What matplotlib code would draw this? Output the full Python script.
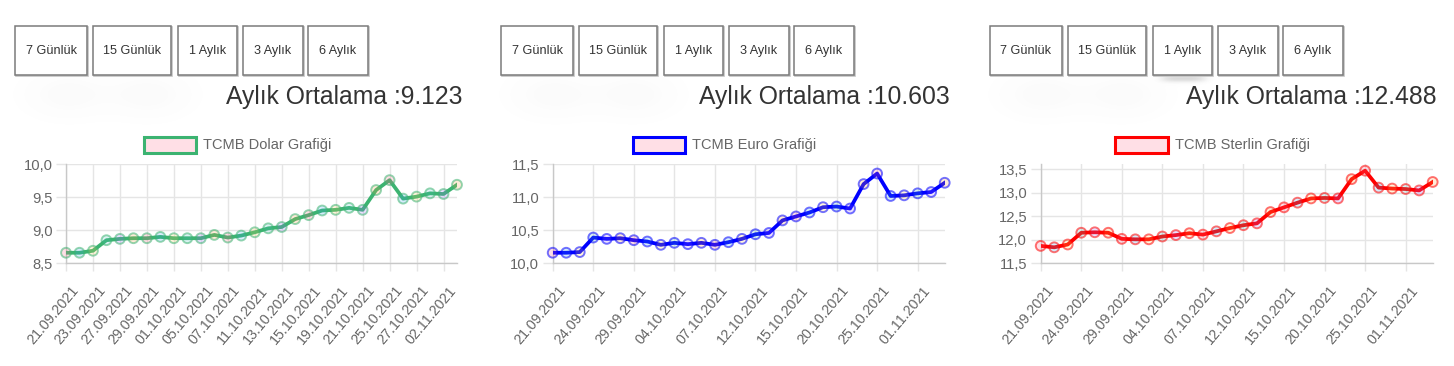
import matplotlib
matplotlib.use("Agg")
import matplotlib.pyplot as plt
import matplotlib.transforms as mtransforms
from matplotlib.patches import Rectangle
import numpy as np

plt.rcParams['font.family'] = ['Liberation Sans', 'DejaVu Sans']

# ---------------- data ----------------
dates = ["21.09.2021", "22.09.2021", "23.09.2021", "24.09.2021", "27.09.2021",
         "28.09.2021", "29.09.2021", "30.09.2021", "01.10.2021", "04.10.2021",
         "05.10.2021", "06.10.2021", "07.10.2021", "08.10.2021", "11.10.2021",
         "12.10.2021", "13.10.2021", "14.10.2021", "15.10.2021", "18.10.2021",
         "19.10.2021", "20.10.2021", "21.10.2021", "22.10.2021", "25.10.2021",
         "26.10.2021", "27.10.2021", "01.11.2021", "02.11.2021", "03.11.2021"]

dolar = [8.66, 8.66, 8.69, 8.85, 8.87, 8.88, 8.88, 8.90, 8.88, 8.88,
         8.88, 8.93, 8.89, 8.92, 8.97, 9.03, 9.05, 9.17, 9.23, 9.30,
         9.31, 9.34, 9.31, 9.61, 9.76, 9.48, 9.51, 9.56, 9.55, 9.69]

euro = [10.16, 10.16, 10.17, 10.39, 10.37, 10.38, 10.35, 10.33, 10.28, 10.31,
        10.29, 10.31, 10.28, 10.32, 10.37, 10.44, 10.46, 10.65, 10.71, 10.77,
        10.85, 10.86, 10.83, 11.20, 11.36, 11.02, 11.03, 11.06, 11.08, 11.22]

sterlin = [11.87, 11.84, 11.90, 12.15, 12.16, 12.15, 12.02, 12.01, 12.01, 12.07,
           12.10, 12.14, 12.11, 12.18, 12.25, 12.31, 12.35, 12.59, 12.69, 12.79,
           12.88, 12.89, 12.88, 13.29, 13.47, 13.11, 13.09, 13.08, 13.05, 13.23]

titles = ["TCMB Dolar Grafiği", "TCMB Euro Grafiği", "TCMB Sterlin Grafiği"]
averages = ["Aylık Ortalama :9.123", "Aylık Ortalama :10.603", "Aylık Ortalama :12.488"]
buttons = ["7 Günlük", "15 Günlük", "1 Aylık", "3 Aylık", "6 Aylık"]
yticks = [[8.5, 9.0, 9.5, 10.0], [10.0, 10.5, 11.0, 11.5], [11.5, 12.0, 12.5, 13.0, 13.5]]
label_step = [2, 3, 3]

# ---------------- style ----------------
W, H = 1454, 366
fig = plt.figure(figsize=(W / 100, H / 100), dpi=100)
fig.patch.set_facecolor('white')

def px(x0, y0, x1, y1):
    return [x0 / W, 1 - y1 / H, (x1 - x0) / W, (y1 - y0) / H]

line_colors = ['#3cb371', '#0000ff', '#ff0000']
point_fills = [(1, 99/255, 132/255, 0.2), (54/255, 162/255, 235/255, 0.2),
               (1, 206/255, 86/255, 0.2), (75/255, 192/255, 192/255, 0.2),
               (153/255, 102/255, 1, 0.2), (1, 159/255, 64/255, 0.2)]
series = [dolar, euro, sterlin]
ylims = [(8.5, 10.0), (10.0, 11.5), (11.5, 13.606)]
ax_left = [66, 552.7, 1040.7]
ax_right = [457, 944.7, 1432.7]
btn_x0 = [15, 501, 990]
btn_widths = [72, 78, 59, 60, 60]
btn_gaps = [6, 7, 6, 5]
avg_right = [463, 950, 1437]
leg_box = [(144, 196), (632.7, 685), (1114.5, 1168)]

grid_c = '#e5e5e5'
tick_c = '#666666'

bg = fig.add_axes([0, 0, 1, 1])
bg.set_xlim(0, W)
bg.set_ylim(H, 0)
bg.axis('off')

# soft shadows under the buttons
yy, xx = np.mgrid[0:H, 0:W].astype(float)
shade = np.zeros((H, W))
for k in range(3):
    ox = btn_x0[k] - 15
    for cx, cy, sx, sy, a in [(ox + 67, 94, 40, 22, 0.025), (ox + 148, 94, 40, 22, 0.025)]:
        shade += a * np.exp(-(((xx - cx) / sx) ** 2 + ((yy - cy) / sy) ** 2))
# lifted "1 Aylık" button in the third panel
shade += 0.22 * np.exp(-(((xx - 1183) / 22) ** 4 + ((yy - 78) / 3.5) ** 2))
rgba = np.zeros((H, W, 4))
rgba[..., :3] = 0.35
rgba[..., 3] = np.clip(shade, 0, 1)
bg.imshow(rgba, extent=(0, W, H, 0), zorder=0, interpolation='bilinear', aspect='auto')

for k in range(3):
    x = btn_x0[k]
    for i, (lab, bw) in enumerate(zip(buttons, btn_widths)):
        bg.add_patch(Rectangle((x + 1.2, 27.2), bw, 49, facecolor='none',
                               edgecolor='#c4c4c4', lw=1.2, zorder=1))
        bg.add_patch(Rectangle((x, 26), bw, 49, facecolor='white',
                               edgecolor='#7a7a7a', lw=1.1, zorder=2))
        bg.text(x + bw / 2, 51, lab, ha='center', va='center', fontsize=9.1,
                color='#333333', zorder=3)
        if i < 4:
            x += bw + btn_gaps[i]
    bg.text(avg_right[k], 97, averages[k], ha='right', va='center',
            fontsize=17.8, color='#333333')
    lx0, lx1 = leg_box[k]
    bg.add_patch(Rectangle((lx0, 136.5), lx1 - lx0, 16, facecolor=point_fills[0],
                           edgecolor=line_colors[k], lw=2.2, zorder=2))
    bg.text(lx1 + 7, 144.5, titles[k], ha='left', va='center', fontsize=10.5,
            color='#666666')

x_idx = np.arange(len(dates))
for k in range(3):
    ax = fig.add_axes(px(ax_left[k], 164.3, ax_right[k], 263.3))
    ax.set_facecolor('none')
    vals = series[k]
    ax.plot(x_idx, vals, color=line_colors[k], lw=2.7, zorder=3, solid_joinstyle='round')
    fills = [point_fills[i % 6] for i in range(len(vals))]
    ec = matplotlib.colors.to_rgba(line_colors[k], 0.55)
    ax.scatter(x_idx, vals, s=50, facecolors=fills, edgecolors=[ec], linewidths=1.4,
               zorder=4, clip_on=False)
    ax.set_xlim(0, len(dates) - 1)
    ax.set_ylim(*ylims[k])
    ax.set_yticks(yticks[k])
    ax.set_yticklabels([f"{v:.1f}".replace('.', ',') for v in yticks[k]])
    step = label_step[k]
    ticks = x_idx[::step]
    ax.set_xticks(ticks)
    ax.set_xticklabels([dates[i] for i in ticks], rotation=50, ha='right',
                       va='center', rotation_mode='anchor')
    ax.grid(True, color=grid_c, lw=1)
    ax.set_axisbelow(True)
    for s in ['top', 'right']:
        ax.spines[s].set_visible(False)
    for s in ['left', 'bottom']:
        ax.spines[s].set_color('#c8c8c8')
        ax.spines[s].set_linewidth(1)
    ax.tick_params(axis='y', length=7.2, width=1, color=grid_c, pad=2.5,
                   labelsize=10.6, labelcolor=tick_c)
    ax.tick_params(axis='x', length=5.8, width=1, color=grid_c, pad=12,
                   labelsize=10.3, labelcolor=tick_c)
    off = mtransforms.ScaledTranslation(10 / 100, 0, fig.dpi_scale_trans)
    for lab in ax.get_xticklabels():
        lab.set_transform(lab.get_transform() + off)

fig.savefig('out.png', dpi=100, facecolor='white')
